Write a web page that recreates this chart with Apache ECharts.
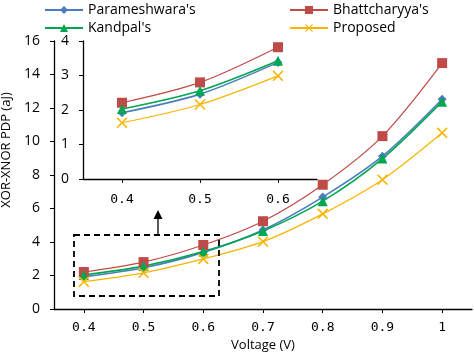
<!DOCTYPE html>
<html>
<head>
<meta charset="utf-8">
<script src="https://cdn.jsdelivr.net/npm/echarts@6/dist/echarts.min.js"></script>
<style>
  html, body { margin: 0; padding: 0; background: #fff; }
  #chart { width: 474px; height: 353px; }
</style>
</head>
<body>
<div id="chart"></div>
<script>
// voltage categories
const voltages = ['0.4', '0.5', '0.6', '0.7', '0.8', '0.9', '1']
const insetVoltages = ['0.4', '0.5', '0.6']

// PDP values (aJ)
const parameshwara = [1.92, 2.46, 3.38, 4.72, 6.68, 9.12, 12.52]
const bhattcharyya = [2.21, 2.80, 3.82, 5.24, 7.42, 10.32, 14.68]
const kandpal = [2.03, 2.56, 3.43, 4.66, 6.44, 8.98, 12.38]
const proposed = [1.63, 2.16, 2.99, 4.02, 5.68, 7.72, 10.52]

const font = '"Open Sans", sans-serif'
const narrow = '"Liberation Sans Narrow", "Open Sans", sans-serif'
const mono = '"DejaVu Sans Mono", monospace'
const crossPath = 'path://M0,1L1,0L5,4L9,0L10,1L6,5L10,9L9,10L5,6L1,10L0,9L4,5Z'

const styles = {
  "Parameshwara's": { color: '#4A7EBB', symbol: 'diamond', size: 9, width: 1.6 },
  "Bhattcharyya's": { color: '#BE4B48', symbol: 'rect', size: 10, width: 1.2 },
  "Kandpal's": { color: '#00A651', symbol: 'triangle', size: 10, width: 1.6 },
  'Proposed': { color: '#F7B500', symbol: crossPath, size: 11, width: 1.2 }
}

function makeSeries(name, values, axisIndex) {
  const s = styles[name]
  return {
    name: name,
    type: 'line',
    xAxisIndex: axisIndex,
    yAxisIndex: axisIndex,
    data: values,
    smooth: 0.3,
    symbol: s.symbol,
    symbolSize: s.size,
    showAllSymbol: true,
    itemStyle: { color: s.color },
    lineStyle: { color: s.color, width: s.width },
    emphasis: { disabled: true },
    z: axisIndex === 1 ? 5 : 3
  }
}

const names = ["Parameshwara's", "Bhattcharyya's", "Kandpal's", 'Proposed']
const allData = [parameshwara, bhattcharyya, kandpal, proposed]

const series = []
names.forEach((n, i) => series.push(makeSeries(n, allData[i], 0)))
names.forEach((n, i) => series.push(makeSeries(n, allData[i].slice(0, insetVoltages.length), 1)))

const axisBlack = { show: true, lineStyle: { color: '#000', width: 1.3 } }

const chart = echarts.init(document.getElementById('chart'))
chart.setOption({
  animation: false,
  backgroundColor: '#fff',
  legend: [
    {
      data: ["Parameshwara's", "Kandpal's"],
      orient: 'vertical',
      left: 39, top: -2,
      itemWidth: 38, itemHeight: 10, itemGap: 4,
      textStyle: { fontFamily: font, fontSize: 14, color: '#000' }
    },
    {
      data: ["Bhattcharyya's", 'Proposed'],
      orient: 'vertical',
      left: 284, top: -2,
      itemWidth: 38, itemHeight: 10, itemGap: 4,
      textStyle: { fontFamily: font, fontSize: 14, color: '#000' }
    }
  ],
  grid: [
    { left: 54, top: 41, right: 2, bottom: 44, outerBoundsMode: 'none' },
    { left: 83, top: 41, width: 234, height: 138, z: 4, outerBoundsMode: 'none' }
  ],
  xAxis: [
    {
      type: 'category', gridIndex: 0, data: voltages, boundaryGap: true,
      name: 'Voltage (V)', nameLocation: 'middle', nameGap: 27,
      nameTextStyle: { fontFamily: font, fontSize: 13, color: '#000' },
      axisLine: axisBlack,
      axisTick: { show: true, alignWithLabel: true, length: 4, lineStyle: { color: '#000' } },
      axisLabel: { fontFamily: mono, fontSize: 13, color: '#000', margin: 12 },
      splitLine: { show: false }
    },
    {
      type: 'category', gridIndex: 1, data: insetVoltages, boundaryGap: true,
      axisLine: axisBlack,
      axisTick: { show: true, alignWithLabel: true, length: 4, lineStyle: { color: '#000' } },
      axisLabel: { fontFamily: mono, fontSize: 13, color: '#000', margin: 14 },
      splitLine: { show: false }
    }
  ],
  yAxis: [
    {
      type: 'value', gridIndex: 0, min: 0, max: 16, interval: 2,
      name: 'XOR-XNOR PDP (aJ)', nameLocation: 'middle', nameGap: 38,
      nameTextStyle: { fontFamily: narrow, fontSize: 13, color: '#000', padding: [0, 0, 0, 50] },
      axisLine: axisBlack,
      axisTick: { show: true, length: 4, lineStyle: { color: '#000' } },
      axisLabel: { fontFamily: font, fontSize: 14, color: '#000', margin: 14 },
      splitLine: { show: false }
    },
    {
      type: 'value', gridIndex: 1, min: 0, max: 4, interval: 1,
      axisLine: axisBlack,
      axisTick: { show: true, length: 4, lineStyle: { color: '#000' } },
      axisLabel: { fontFamily: font, fontSize: 14, color: '#000', margin: 14 },
      splitLine: { show: false }
    }
  ],
  graphic: [
    {
      type: 'rect',
      shape: { x: 74, y: 235, width: 145, height: 61 },
      style: { fill: 'none', stroke: '#000', lineWidth: 1.8, lineDash: [6, 4] },
      z: 10
    },
    {
      type: 'line',
      shape: { x1: 158, y1: 235, x2: 158, y2: 218 },
      style: { stroke: '#000', lineWidth: 1.3 },
      z: 10
    },
    {
      type: 'polygon',
      shape: { points: [[158, 210], [153.5, 219], [162.5, 219]] },
      style: { fill: '#000' },
      z: 10
    }
  ],
  series: series
})
</script>
</body>
</html>
